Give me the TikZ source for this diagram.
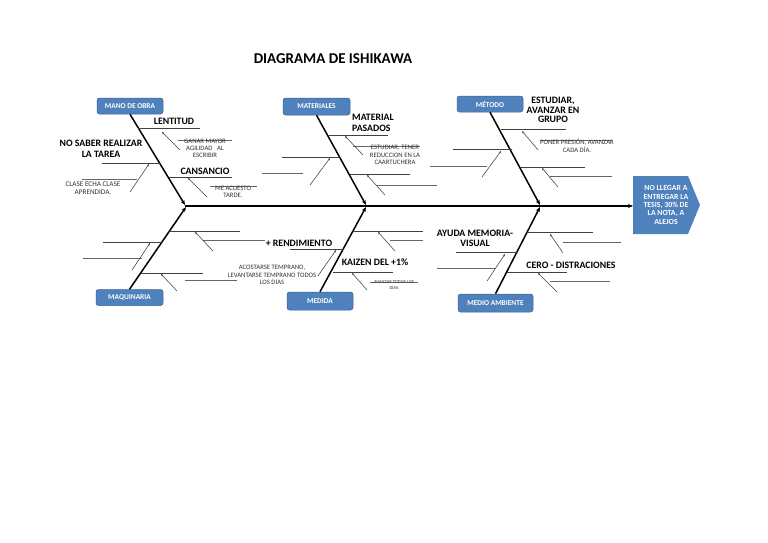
\documentclass[tikz,border=0pt]{standalone}
\usepackage{fontspec}
\setmainfont{Carlito}
\usetikzlibrary{arrows.meta}
\definecolor{boxblue}{RGB}{79,129,189}
\definecolor{boxedge}{RGB}{60,100,155}
\begin{document}
\begin{tikzpicture}[x=1pt,y=-1pt,
  cat/.style={draw=boxedge, line width=0.5pt, fill=boxblue, rounded corners=2.5pt, text=white,
    font=\fontsize{7.4}{8}\selectfont\bfseries, inner sep=0pt},
  rib/.style={line width=1.5pt, -{Stealth[length=5pt,width=4pt]}},
  spine/.style={line width=1.5pt, -{Stealth[length=5pt,width=4pt]}},
  mainline/.style={draw=black!75, line width=0.7pt},
  secline/.style={draw=black!60, line width=0.55pt},
  diag/.style={draw=black!75, line width=0.55pt, -{Stealth[length=2.5pt,width=2pt]}},
  lbl/.style={font=\fontsize{9.8}{10.5}\selectfont\bfseries, align=center, inner sep=0pt},
  note/.style={font=\fontsize{6.7}{7.5}\selectfont, align=center, inner sep=0pt, text=black!80},
]
\fill[white] (0,0) rectangle (768,543);
\useasboundingbox (0,0) rectangle (768,543);

% title
\node[font=\fontsize{15}{18}\selectfont\bfseries] (title) at (333,59) {DIAGRAMA DE ISHIKAWA};

% head
\fill[boxblue] (633,176) -- (688,176) -- (700,205) -- (688,234) -- (633,234) -- cycle;
\node[font=\fontsize{7.8}{8.4}\selectfont\bfseries, text=white, align=center, inner sep=0pt]
  (head) at (666,205) {NO LLEGAR A\\ENTREGAR LA\\TESIS, 30\% DE\\LA NOTA, A\\ALEJOS};
\coordinate (headL) at (633,206);

% category boxes
\node[cat, minimum width=66pt, minimum height=16pt] (mo)  at (130,106)   {MANO DE OBRA};
\node[cat, minimum width=67pt, minimum height=17pt] (mat) at (316.5,106.5) {MATERIALES};
\node[cat, minimum width=66pt, minimum height=16pt] (met) at (490,104)   {MÉTODO};
\node[cat, minimum width=67pt, minimum height=16pt] (maq) at (129.5,297.5) {MAQUINARIA};
\node[cat, minimum width=66pt, minimum height=18pt] (med) at (320,301)   {MEDIDA};
\node[cat, minimum width=75pt, minimum height=18pt] (ma)  at (495.5,303) {MEDIO AMBIENTE};

% spine and ribs
\coordinate (tail) at (185,206);
\coordinate (jmo) at (185,205);
\coordinate (jmat) at (366,205);
\coordinate (jmet) at (540,205);
\coordinate (jmaq) at (186,207);
\coordinate (jmed) at (366,207);
\coordinate (jma) at (540,207);
\draw[spine] (tail) -- (headL);
\draw[rib] (mo.south) -- (jmo);
\draw[rib] (mat.south) -- (jmat);
\draw[rib] (met.south) -- (jmet);
\draw[rib] (maq.north) -- (jmaq);
\draw[rib] (med.north) -- (jmed);
\draw[rib] (ma.north) -- (jma);

% ---- MANO DE OBRA sub-branches
\draw[mainline] (138,128) -- (200,128);
\draw[secline] (178,140) -- (232,140);
\draw[diag] (180,150) -- (162,132);
\draw[mainline] (169,177) -- (232,177);
\draw[secline] (210,186) -- (257,186);
\draw[diag] (207,197) -- (188,178);
\draw[mainline] (102,163) -- (160,163);
\draw[secline] (82,179) -- (137,179);
\draw[diag] (130,192) -- (149,164);

% ---- MATERIALES
\draw[mainline] (329,135) -- (388,135);
\draw[secline] (353,146) -- (420,146);
\draw[diag] (363,155) -- (345,136);
\draw[mainline] (350,174) -- (410,174);
\draw[secline] (377,185) -- (437,185);
\draw[diag] (385,195) -- (367,175);
\draw[mainline] (282,157) -- (341,157);
\draw[secline] (262,173) -- (303,173);
\draw[diag] (310,185) -- (330,158);

% ---- METODO
\draw[mainline] (501,129) -- (566,129);
\draw[secline] (540,140) -- (612,140);
\draw[diag] (538,150) -- (522,131);
\draw[mainline] (521,167) -- (585,167);
\draw[secline] (550,176) -- (612,176);
\draw[diag] (558,187) -- (542,168);
\draw[mainline] (453,149) -- (512,149);
\draw[secline] (430,166) -- (487,166);
\draw[diag] (482,177) -- (501,151);

% ---- MAQUINARIA
\draw[mainline] (169,231) -- (240,231);
\draw[secline] (203,240) -- (265,240);
\draw[diag] (213,251) -- (195,232);
\draw[mainline] (141,273) -- (203,273);
\draw[secline] (185,280) -- (237,280);
\draw[diag] (177,291) -- (161,274);
\draw[mainline] (103,242) -- (162,242);
\draw[secline] (83,258) -- (142,258);
\draw[diag] (132,270) -- (150,243);

% ---- MEDIDA
\draw[mainline] (354,231) -- (423,231);
\draw[secline] (390,240) -- (423,240);
\draw[diag] (395,251) -- (378,232);
\draw[mainline] (333,272) -- (393,272);
\draw[secline] (370,282) -- (418,282);
\draw[diag] (367,290) -- (352,273);
\draw[mainline] (290,249) -- (344,249);
\draw[diag] (318,276) -- (336,250);

% ---- MEDIO AMBIENTE
\draw[mainline] (527,232) -- (593,232);
\draw[secline] (563,242) -- (621,242);
\draw[diag] (563,253) -- (550,234);
\draw[mainline] (507,272) -- (567,272);
\draw[secline] (550,281) -- (610,281);
\draw[diag] (557,292) -- (538,273);
\draw[mainline] (456,252) -- (517,252);
\draw[secline] (437,268) -- (495,268);
\draw[diag] (487,281) -- (505,254);

% ---- labels
\node[lbl] (l1) at (174,121) {LENTITUD};
\node[note, font=\fontsize{6.7}{7}\selectfont] (n1) at (205,148) {GANAR MAYOR\\AGILIDAD\ \ \ AL\\ESCRIBIR};
\node[lbl, font=\fontsize{9.8}{11}\selectfont\bfseries] (l2) at (101,149) {NO SABER REALIZAR\\LA TAREA};
\node[note, font=\fontsize{7.2}{8.5}\selectfont] (n2) at (93,188) {CLASE ECHA CLASE\\APRENDIDA.};
\node[lbl] (l3) at (205,171) {CANSANCIO};
\node[note, font=\fontsize{6.7}{7.5}\selectfont] (n3) at (233,192) {ME ACUESTO\\TARDE.};

\node[lbl, align=left, anchor=west, font=\fontsize{9.8}{11}\selectfont\bfseries] (l4) at (352,122.5) {MATERIAL\\PASADOS};
\node[note] (n4) at (395,155) {ESTUDIAR, TENER\\REDUCCION EN LA\\CAARTUCHERA};

\node[lbl, font=\fontsize{9.8}{9.8}\selectfont\bfseries] (l5) at (553,110) {ESTUDIAR,\\AVANZAR EN\\GRUPO};
\node[note, font=\fontsize{6.7}{8}\selectfont] (n5) at (577,146) {PONER PRESIÓN, AVANZAR\\CADA DÍA.};

\node[lbl] (l6) at (299,243) {+ RENDIMIENTO};
\node[note, font=\fontsize{6.7}{7.2}\selectfont] (n6) at (272,275) {ACOSTARSE TEMPRANO,\\LEVANTARSE TEMPRANO TODOS\\LOS DIAS};

\node[lbl] (l7) at (375,262) {KAIZEN DEL +1\%};
\node[note, font=\fontsize{4.6}{5.5}\selectfont] (n7) at (394,285) {AVANZAR TODOS LOS\\DIAS};

\node[lbl, font=\fontsize{9.8}{10}\selectfont\bfseries] (l8) at (475,238) {AYUDA MEMORIA-\\VISUAL};
\node[lbl] (l9) at (571,265) {CERO - DISTRACIONES};
\end{tikzpicture}
\end{document}
